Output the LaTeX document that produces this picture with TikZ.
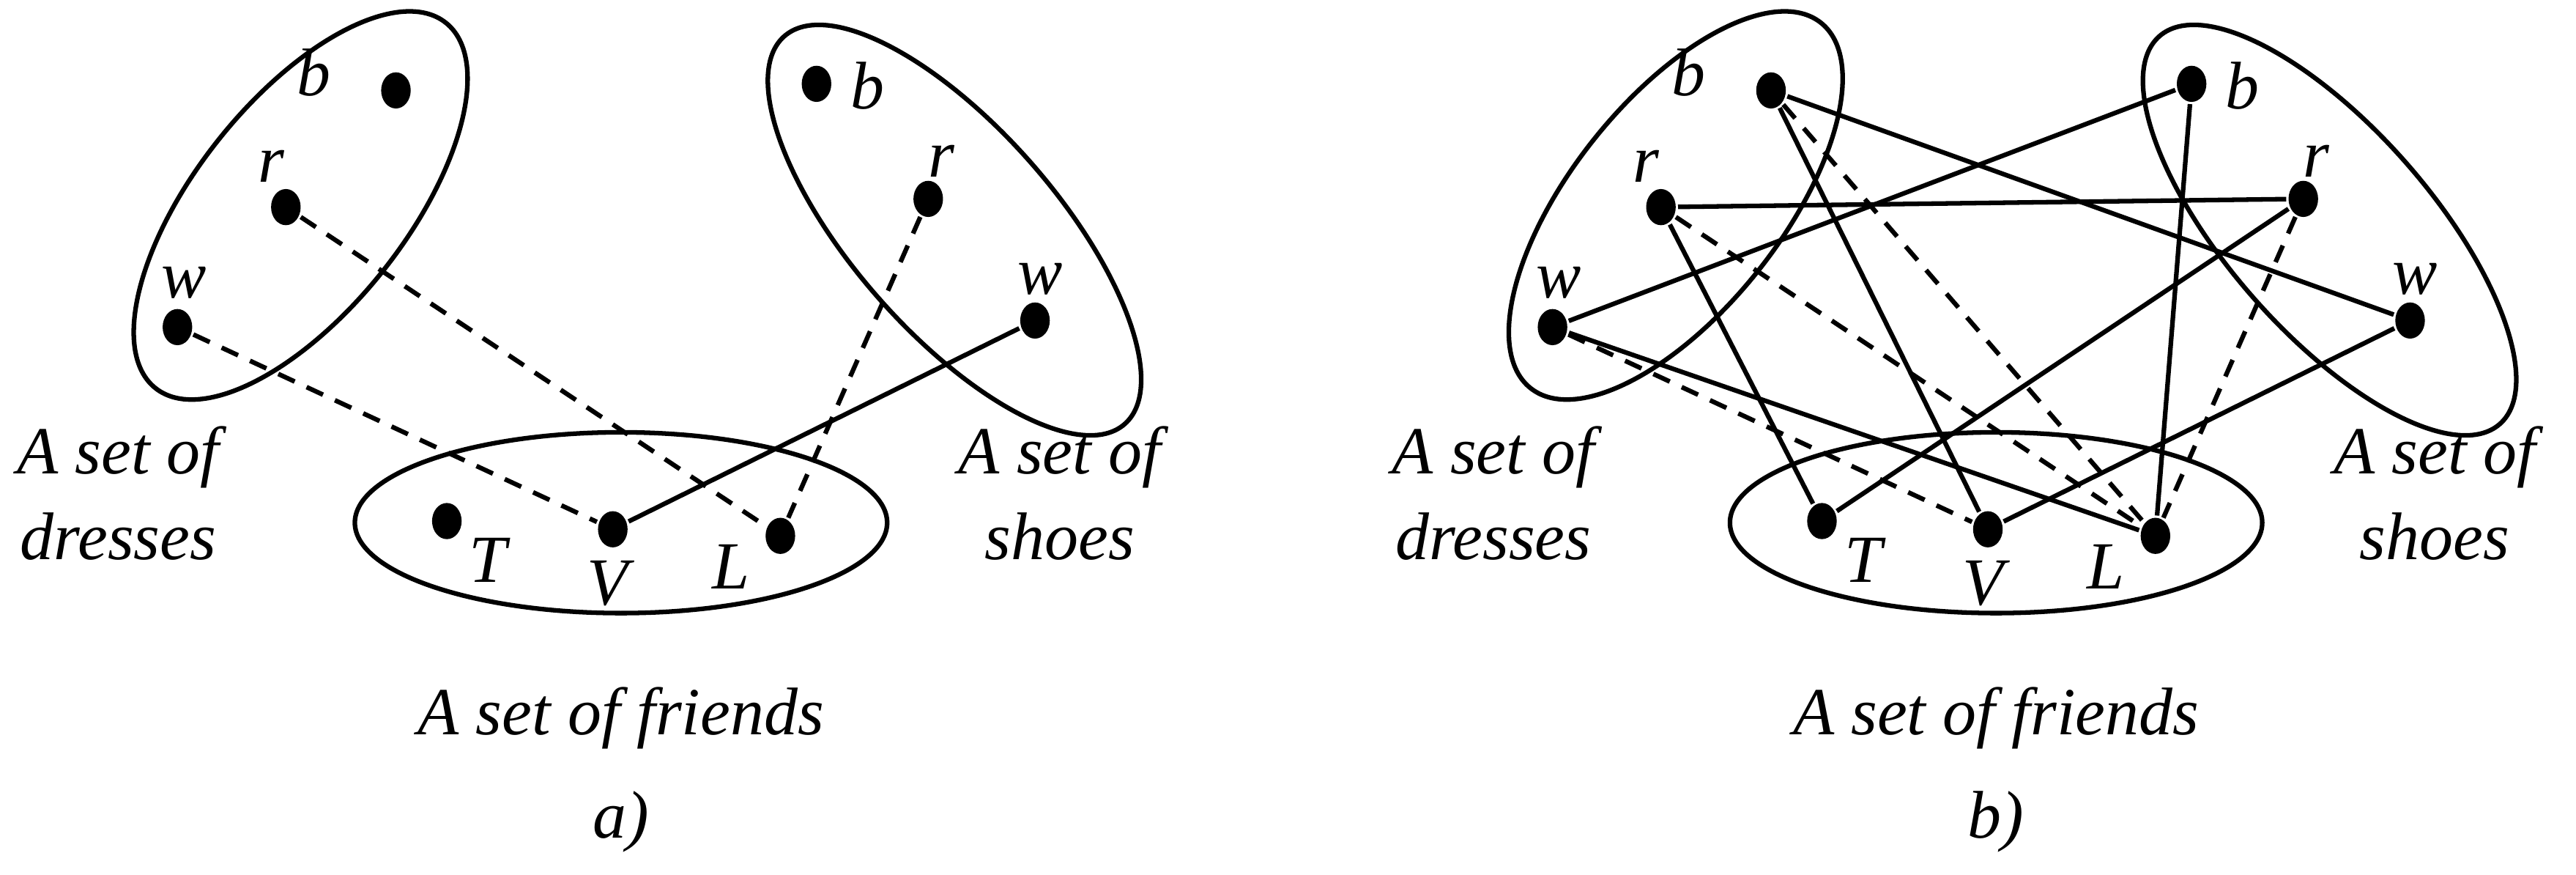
\documentclass[tikz,border=0pt]{standalone}
\usepackage{fontspec}
\setmainfont{Liberation Serif}
\usetikzlibrary{shapes.geometric}
\begin{document}
\begin{tikzpicture}[x=1pt,y=-1pt,line width=2.8pt,
  dot/.style={fill=black,draw=none,ellipse,minimum width=18pt,minimum height=22pt,inner sep=0pt},
  lab/.style={font=\fontsize{41}{46}\selectfont\itshape,inner sep=0pt},
  grp/.style={font=\fontsize{41}{52}\selectfont\itshape,align=center,inner sep=0pt},
  sol/.style={line width=2.8pt},
  das/.style={line width=2.8pt,dash pattern=on 11pt off 8pt}]
\useasboundingbox (0,0) rectangle (1568,532);
\foreach \s/\p in {0/a,837/b}{
\begin{scope}[xshift=\s pt]
  \draw[rotate around={51.5:(183,125)}] (183,125) ellipse [x radius=142,y radius=64];
  \draw[rotate around={-48.7:(581,140)}] (581,140) ellipse [x radius=157,y radius=62];
  \draw (378,318) ellipse [x radius=162,y radius=55];
  \node[dot] (\p db) at (241,55) {};
  \node[dot] (\p dr) at (174,126) {};
  \node[dot] (\p dw) at (108,199) {};
  \node[dot] (\p sb) at (497,51) {};
  \node[dot] (\p sr) at (565,121) {};
  \node[dot] (\p sw) at (630,195) {};
  \node[dot] (\p fT) at (272,317) {};
  \node[dot] (\p fV) at (373,322) {};
  \node[dot] (\p fL) at (475,326) {};
  \node[lab] (\p ldb) at (191,44) {b};
  \node[lab] (\p ldr) at (165,101) {r};
  \node[lab] (\p ldw) at (112,172) {w};
  \node[lab] (\p lsb) at (528,52) {b};
  \node[lab] (\p lsr) at (573,98) {r};
  \node[lab] (\p lsw) at (633,170) {w};
  \node[lab] (\p lT) at (297,341) {T};
  \node[lab] (\p lV) at (370,355) {V};
  \node[lab] (\p lL) at (445,345) {L};
  \node[grp] (\p gd) at (72,300) {A set of\\dresses};
  \node[grp] (\p gs) at (645,300) {A set of\\shoes};
  \node[lab] (\p gf) at (378,437) {A set of friends};
  \node[lab] (\p cap) at (378,500) {\p)};
\end{scope}}
\draw[das] (adw) -- (afV);
\draw[das] (adr) -- (afL);
\draw[sol] (asw) -- (afV);
\draw[das] (asr) -- (afL);
\draw[sol] (bdb) -- (bfV);
\draw[sol] (bdb) -- (bsw);
\draw[sol] (bdr) -- (bsr);
\draw[sol] (bdr) -- (bfT);
\draw[sol] (bdw) -- (bsb);
\draw[sol] (bdw) -- (bfL);
\draw[sol] (bsb) -- (bfL);
\draw[sol] (bsr) -- (bfT);
\draw[sol] (bsw) -- (bfV);
\draw[das] (bdb) -- (bfL);
\draw[das] (bdr) -- (bfL);
\draw[das] (bdw) -- (bfV);
\draw[das] (bsr) -- (bfL);
\end{tikzpicture}
\end{document}
